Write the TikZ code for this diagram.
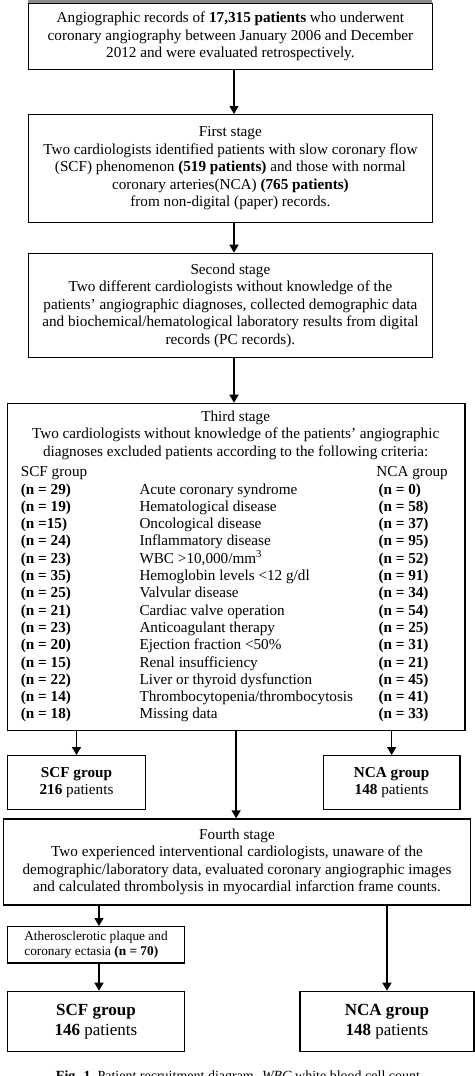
\documentclass[tikz,border=0pt]{standalone}
\usepackage{fontspec}
\setmainfont{Liberation Serif}
\usetikzlibrary{arrows.meta}
\begin{document}
\begin{tikzpicture}[x=1pt,y=-1pt,
  stagebox/.style={draw, line width=1.3pt, inner sep=0pt, anchor=north west, align=center,
    font=\fontsize{15.2}{17.5}\selectfont},
  bigbox/.style={stagebox, font=\fontsize{17}{19.5}\selectfont},
  smallbox/.style={stagebox, align=left, font=\fontsize{13.3}{14.5}\selectfont},
  rowtext/.style={anchor=base west, inner sep=0pt, font=\fontsize{15.2}{17.5}\selectfont},
  arr/.style={line width=1.4pt, -{Triangle[length=8pt,width=9pt]}},
  plain/.style={line width=1.4pt}]
\useasboundingbox (0,0) rectangle (474,1076);
\fill[black!45] (27.5,0) rectangle (432,2.5);

\node[stagebox, minimum width=404.5pt, minimum height=65.5pt] (s0) at (27.5,3)
  {Angiographic records of \textbf{17,315 patients} who underwent\\
   coronary angiography between January 2006 and December\\
   2012 and were evaluated retrospectively.};

\node[stagebox, minimum width=404.5pt, minimum height=107.7pt] (s1) at (27.5,114)
  {First stage\\
   Two cardiologists identified patients with slow coronary flow\\
   (SCF) phenomenon \textbf{(519 patients)} and those with normal\\
   coronary arteries(NCA) \textbf{(765 patients)}\\
   from non-digital (paper) records.};

\node[stagebox, minimum width=404.5pt, minimum height=104pt] (s2) at (27.5,252.7)
  {Second stage\\
   Two different cardiologists without knowledge of the\\
   patients' angiographic diagnoses, collected demographic data\\
   and biochemical/hematological laboratory results from digital\\
   records (PC records).};

\node[stagebox, minimum width=457.6pt, minimum height=327.3pt] (s3) at (6.7,402.7) {};
\node[stagebox, draw=none, anchor=north, inner sep=0pt] (s3head) at (235.7,410)
  {Third stage\\
   Two cardiologists without knowledge of the patients' angiographic\\
   diagnoses excluded patients according to the following criteria:};
\node[rowtext] (scfhead) at (20.7,476) {SCF group};
\node[rowtext, anchor=base east] (ncahead) at (448,476) {NCA group};
\foreach \a/\b/\c [count=\i from 0] in {
  {(n = 29)}/{Acute coronary syndrome}/{(n = 0)},
  {(n = 19)}/{Hematological disease}/{(n = 58)},
  {(n =15)}/{Oncological disease}/{(n = 37)},
  {(n = 24)}/{Inflammatory disease}/{(n = 95)},
  {(n = 23)}/{WBC >10,000/mm\textsuperscript{3}}/{(n = 52)},
  {(n = 35)}/{Hemoglobin levels <12 g/dl}/{(n = 91)},
  {(n = 25)}/{Valvular disease}/{(n = 34)},
  {(n = 21)}/{Cardiac valve operation}/{(n = 54)},
  {(n = 23)}/{Anticoagulant therapy}/{(n = 25)},
  {(n = 20)}/{Ejection fraction <50\%}/{(n = 31)},
  {(n = 15)}/{Renal insufficiency}/{(n = 21)},
  {(n = 22)}/{Liver or thyroid dysfunction}/{(n = 45)},
  {(n = 14)}/{Thrombocytopenia/thrombocytosis}/{(n = 41)},
  {(n = 18)}/{Missing data}/{(n = 33)}} {
  \node[rowtext] (ra\i) at (20.7,494+17.3*\i) {\textbf{\a}};
  \node[rowtext] (rb\i) at (139.3,494+17.3*\i) {\b};
  \node[rowtext] (rc\i) at (378.3,494+17.3*\i) {\textbf{\c}};
}

\node[stagebox, minimum width=138.3pt, minimum height=54pt] (scf1) at (6.7,755)
  {\textbf{SCF group}\\ \textbf{216} patients};
\node[stagebox, minimum width=136.6pt, minimum height=54pt] (nca1) at (322.7,755)
  {\textbf{NCA group}\\ \textbf{148} patients};

\node[stagebox, minimum width=467.3pt, minimum height=86pt] (s4) at (2.7,818.3)
  {Fourth stage\\
   Two experienced interventional cardiologists, unaware of the\\
   demographic/laboratory data, evaluated coronary angiographic images\\
   and calculated thrombolysis in myocardial infarction frame counts.};

\node[smallbox, minimum width=177.3pt, minimum height=36.3pt] (ath) at (6.7,926)
  {Atherosclerotic plaque and\\ coronary ectasia \textbf{(n = 70)}};

\node[bigbox, minimum width=177.3pt, minimum height=60.3pt] (scf2) at (6.7,990.7)
  {\textbf{SCF group}\\ \textbf{146} patients};
\node[bigbox, minimum width=174pt, minimum height=60.3pt] (nca2) at (299.3,990.7)
  {\textbf{NCA group}\\ \textbf{148} patients};

\draw[arr] (s0.south -| 234,0) -- (s1.north -| 234,0);
\draw[arr] (s1.south -| 234,0) -- (s2.north -| 234,0);
\draw[arr] (s2.south -| 234,0) -- (s3.north -| 234,0);
\draw[arr] (scf1.north |- s3.south) -- (scf1.north);
\draw[arr] (nca1.north |- s3.south) -- (nca1.north);
\draw[arr] (s3.south) -- (s3.south |- s4.north);
\draw[arr] ([xshift=3pt]ath.north |- s4.south) -- ([xshift=3pt]ath.north);
\draw[arr] ([xshift=3pt]ath.south) -- ([xshift=3pt]ath.south |- scf2.north);
\draw[arr] (nca2.north |- s4.south) -- (nca2.north);

\begin{scope}
  \clip (0,0) rectangle (474,1076);
  \node[anchor=base, inner sep=0pt, font=\fontsize{14}{16}\selectfont] (cap) at (238,1080)
    {\textbf{Fig. 1}\ \ Patient recruitment diagram. \textit{WBC} white blood cell count};
\end{scope}
\end{tikzpicture}
\end{document}
